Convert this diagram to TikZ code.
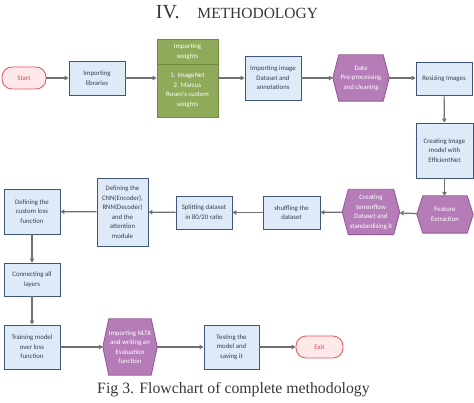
\documentclass[tikz,border=0pt]{standalone}
\usepackage{fontspec}
\setmainfont{Liberation Serif}
\newfontfamily\boxfont{Carlito}
\usepackage{xcolor}
\usetikzlibrary{arrows.meta,backgrounds,calc}

\definecolor{boxfill}{RGB}{222,234,247}
\definecolor{boxline}{RGB}{62,86,122}
\definecolor{boxtext}{RGB}{55,62,80}
\definecolor{greenfill}{RGB}{143,170,88}
\definecolor{greenline}{RGB}{112,138,66}
\definecolor{purplefill}{RGB}{182,124,184}
\definecolor{purpleline}{RGB}{150,92,152}
\definecolor{termfill}{RGB}{253,233,234}
\definecolor{termline}{RGB}{228,82,92}
\definecolor{termtext}{RGB}{218,72,82}
\definecolor{arrowgray}{RGB}{112,112,112}
\definecolor{printgray}{RGB}{55,55,55}

\tikzset{
  base/.style={font=\boxfont\fontsize{6.8}{9.5}\selectfont, align=center, inner sep=1pt},
  bluebox/.style={base, draw=boxline, fill=boxfill, line width=0.9pt, text=boxtext},
  greenbox/.style={base, draw=greenline, fill=greenfill, line width=0.9pt, text=white},
  hexbox/.style={base, text=white},
  hexline/.style={draw=purpleline, fill=purplefill, line width=0.9pt},
  terminal/.style={base, draw=termline, fill=termfill, rounded corners=10pt, text=termtext, line width=0.8pt},
  arrow/.style={draw=arrowgray, line width=1.2pt, -{Triangle[length=4pt,width=4.5pt]}},
}

\begin{document}
\begin{tikzpicture}[x=1pt,y=-1pt]
    \useasboundingbox (0,0) rectangle (474,403);

    % Title and caption
    \node[text=printgray] (title) at (237,12) {\fontsize{20}{20}\selectfont IV.\hspace{18pt}\fontsize{15.5}{15.5}\selectfont METHODOLOGY};
    \node[text=printgray] (caption) at (233.5,390) {\fontsize{15.8}{15.8}\selectfont Fig 3. Flowchart of complete methodology};

    % Top row
    \node[terminal, minimum width=44pt, minimum height=22pt] (start) at (24,78) {Start};
    \node[bluebox, minimum width=56pt, minimum height=34pt] (libs) at (97,78) {Importing\\libraries};
    \node[greenbox, minimum width=61pt, minimum height=25pt] (weighthead) at (187.5,51.5) {Importing\\weights};
    \node[greenbox, minimum width=61pt, minimum height=53pt] (weightlist) at (187.5,90.5) {1. ImageNet\\2. Marcus\\Rosen's custom\\weights};
    \node[bluebox, minimum width=56pt, minimum height=44pt] (dataset) at (273,78) {Importing image\\Dataset and\\annotations};
    \node[hexbox, minimum width=56pt, minimum height=46pt] (prep) at (361,78) {Data\\Pre-processing\\and cleaning};
    \node[bluebox, minimum width=56pt, minimum height=33pt] (resize) at (444,78.5) {Resizing Images};

    % Right column
    \node[bluebox, minimum width=57pt, minimum height=55pt] (model) at (444.5,150.5) {Creating Image\\model with\\EfficientNet};
    \node[hexbox, minimum width=56pt, minimum height=37pt] (feat) at (445,214.5) {Feature\\Extraction};

    % Middle row
    \node[hexbox, minimum width=57pt, minimum height=45pt] (tfdata) at (371,212) {Creating\\tensorflow\\Dataset and\\standardizing it};
    \node[bluebox, minimum width=57pt, minimum height=33pt] (shuffle) at (291.5,212.5) {shuffling the\\dataset};
    \node[bluebox, minimum width=56pt, minimum height=33pt] (split) at (204,212.5) {Splitting dataset\\in 80/20 ratio};
    \node[bluebox, minimum width=51pt, minimum height=68pt] (cnn) at (122.5,212) {Defining the\\CNN(Encoder),\\RNN(Decoder)\\and the\\attention\\module};
    \node[bluebox, minimum width=56pt, minimum height=45pt] (loss) at (32,211.5) {Defining the\\custom loss\\function};

    % Left column and bottom row
    \node[bluebox, minimum width=56pt, minimum height=33pt] (connect) at (32,279.5) {Connecting all\\layers};
    \node[bluebox, minimum width=56pt, minimum height=44pt] (train) at (32,347) {Training model\\over loss\\function};
    \node[hexbox, minimum width=54pt, minimum height=56pt] (nltk) at (130,347) {Importing NLTK\\and writing an\\Evaluation\\function};
    \node[bluebox, minimum width=55pt, minimum height=44pt] (test) at (231.5,347) {Testing the\\model and\\saving it};
    \node[terminal, minimum width=47pt, minimum height=22pt] (exit) at (319.5,347) {Exit};

    % Divider of the weights box
    \draw[greenline, line width=0.9pt] (weighthead.south west) -- (weighthead.south east);

    % Hexagon outlines
    \begin{scope}[on background layer]
        \foreach \n in {prep,feat,tfdata,nltk}
            \draw[hexline] ($(\n.north west)+(6pt,0)$) -- ($(\n.north east)+(-6pt,0)$) -- (\n.east)
                -- ($(\n.south east)+(-6pt,0)$) -- ($(\n.south west)+(6pt,0)$) -- (\n.west) -- cycle;
    \end{scope}

    % Connectors
    \draw[arrow] (start) -- (libs);
    \draw[arrow] (libs.east) -- (libs.east -| weightlist.west);
    \draw[arrow] (dataset.west -| weightlist.east) -- (dataset.west);
    \draw[arrow] (dataset) -- (prep);
    \draw[arrow] (prep.east) -- (prep.east -| resize.west);
    \draw[arrow] (resize) -- (model);
    \draw[arrow] (model) -- (feat.north -| model.south);
    \draw[arrow] (feat) -- (tfdata);
    \draw[arrow] (tfdata) -- (shuffle);
    \draw[arrow] (shuffle) -- (split);
    \draw[arrow] (split) -- (cnn);
    \draw[arrow] (cnn) -- (loss);
    \draw[arrow] (loss) -- (connect);
    \draw[arrow] (connect) -- (train);
    \draw[arrow] (train) -- (nltk);
    \draw[arrow] (nltk) -- (test);
    \draw[arrow] (test) -- (exit);
\end{tikzpicture}
\end{document}
